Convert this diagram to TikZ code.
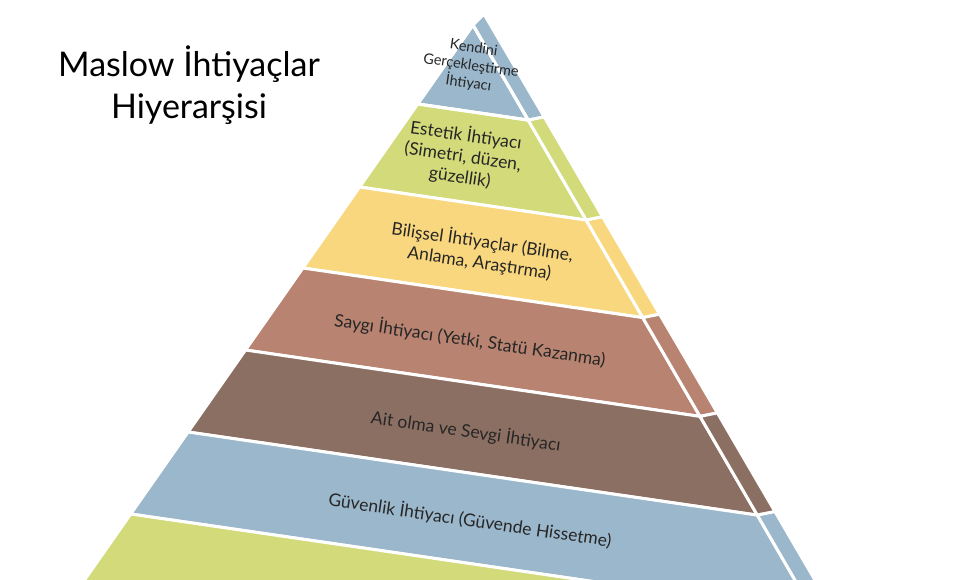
\documentclass[tikz,border=0pt]{standalone}
\usepackage{fontspec}
\setmainfont{Lato}
\begin{document}
\begin{tikzpicture}[x=1pt,y=-1pt,
  gap/.style={draw=white,line width=3pt,line join=round},
  lbl/.style={align=center,rotate=-8.3,text=black!85,inner sep=0pt}]
\useasboundingbox (0,0) rectangle (960,580);
\clip (0,0) rectangle (960,580);
\definecolor{cblue}{HTML}{9BB7CB}
\definecolor{cgreen}{HTML}{D2DA7A}
\definecolor{cyellow}{HTML}{F9D77E}
\definecolor{crose}{HTML}{B88370}
\definecolor{cbrown}{HTML}{8C6F63}
\coordinate (A) at (473,25); \coordinate (B) at (484,14);
\coordinate (L1) at (417.7,104); \coordinate (R1) at (528.2,120.1); \coordinate (S1) at (544.2,116.9);
\coordinate (L2) at (359.6,187); \coordinate (R2) at (586.2,220.1); \coordinate (S2) at (602.6,216.8);
\coordinate (L3) at (302.9,268); \coordinate (R3) at (642.7,317.6); \coordinate (S3) at (659.6,314.2);
\coordinate (L4) at (245.5,350); \coordinate (R4) at (700,416.4); \coordinate (S4) at (717.4,412.9);
\coordinate (L5) at (188.1,432); \coordinate (R5) at (757.3,515.1); \coordinate (S5) at (775,511.6);
\coordinate (L6) at (130.7,514); \coordinate (R6) at (814.6,613.9); \coordinate (S6) at (832.6,610.3);
\coordinate (L7) at (73.3,596); \coordinate (R7) at (872,712); \coordinate (S7) at (890,708);
\fill[gap,fill=cblue] (A) -- (L1) -- (R1) -- cycle;
\fill[gap,fill=cgreen] (L1) -- (L2) -- (R2) -- (R1) -- cycle;
\fill[gap,fill=cyellow] (L2) -- (L3) -- (R3) -- (R2) -- cycle;
\fill[gap,fill=crose] (L3) -- (L4) -- (R4) -- (R3) -- cycle;
\fill[gap,fill=cbrown] (L4) -- (L5) -- (R5) -- (R4) -- cycle;
\fill[gap,fill=cblue] (L5) -- (L6) -- (R6) -- (R5) -- cycle;
\fill[gap,fill=cgreen] (L6) -- (L7) -- (R7) -- (R6) -- cycle;
\fill[gap,fill=cblue] (A) -- (B) -- (S1) -- (R1) -- cycle;
\fill[gap,fill=cgreen] (R1) -- (S1) -- (S2) -- (R2) -- cycle;
\fill[gap,fill=cyellow] (R2) -- (S2) -- (S3) -- (R3) -- cycle;
\fill[gap,fill=crose] (R3) -- (S3) -- (S4) -- (R4) -- cycle;
\fill[gap,fill=cbrown] (R4) -- (S4) -- (S5) -- (R5) -- cycle;
\fill[gap,fill=cblue] (R5) -- (S5) -- (S6) -- (R6) -- cycle;
\fill[gap,fill=cgreen] (R6) -- (S6) -- (S7) -- (R7) -- cycle;
\draw[gap] (A) -- (L1) -- (R1) -- cycle;
\node[lbl,font=\fontsize{14.5}{18}\selectfont] (t1) at (471,66) {Kendini\\Gerçekleştirme\\İhtiyacı};
\node[lbl,font=\fontsize{17.5}{21}\selectfont] (t2) at (463,156) {Estetik İhtiyacı\\(Simetri, düzen,\\güzellik)};
\node[lbl,font=\fontsize{17.5}{21}\selectfont] (t3) at (481,252) {Bilişsel İhtiyaçlar (Bilme,\\Anlama, Araştırma)};
\node[lbl,font=\fontsize{17.5}{21}\selectfont] (t4) at (470,340) {Saygı İhtiyacı (Yetki, Statü Kazanma)};
\node[lbl,font=\fontsize{17.5}{21}\selectfont] (t5) at (466,431) {Ait olma ve Sevgi İhtiyacı};
\node[lbl,font=\fontsize{17.5}{21}\selectfont] (t6) at (470,520) {Güvenlik İhtiyacı (Güvende Hissetme)};
\node[align=center,font=\fontsize{34}{42}\selectfont,text=black] (title) at (189,85) {Maslow İhtiyaçlar\\Hiyerarşisi};
\end{tikzpicture}
\end{document}
